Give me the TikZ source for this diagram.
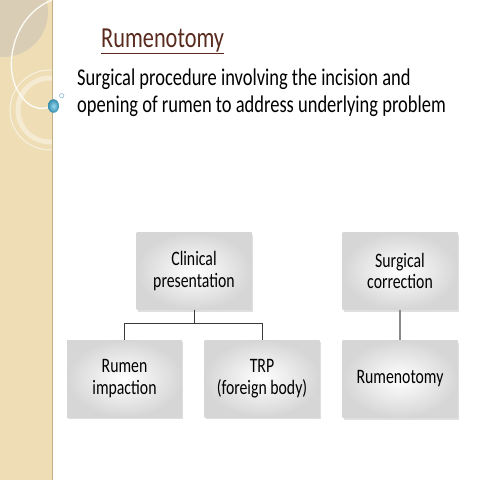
\documentclass[tikz,border=0pt]{standalone}
\usepackage{fontspec}
\setmainfont[FakeStretch=0.77]{Carlito}
\usetikzlibrary{shadows,calc}
\definecolor{strip}{HTML}{EEDDB5}
\definecolor{stripline}{HTML}{C4AE86}
\definecolor{disc}{HTML}{D9CDB5}
\definecolor{titlecol}{HTML}{5A2A1E}
\definecolor{boxedge}{HTML}{D6D6D6}
\definecolor{treeline}{HTML}{3A3A3A}
\definecolor{rightline}{HTML}{8A8A8A}
\definecolor{bead}{HTML}{45BCE6}
\definecolor{ringblue}{HTML}{9CC6D8}
\tikzset{
  sbox/.style={rectangle, minimum width=115pt, minimum height=77pt,
    shading=radial, inner color=white, outer color=boxedge,
    drop shadow={opacity=0.25, shadow xshift=1pt, shadow yshift=-2pt},
    align=center, font=\fontsize{20.5}{21.5}\selectfont, text=black, inner sep=0pt},
  tree/.style={draw=treeline, line width=0.9pt},
  rtree/.style={draw=rightline, line width=1.2pt}
}
\begin{document}
\begin{tikzpicture}[x=1pt,y=-1pt]
\useasboundingbox (0,0) rectangle (480,480);
\fill[white] (0,0) rectangle (480,480);
% left strip
\fill[strip] (0,0) rectangle (52,480);
\begin{scope}
\clip (0,0) rectangle (52,480);
\fill[disc] (3,12) circle (45);
\draw[white!80!strip, line width=5pt, opacity=0.5] (50,110) circle (32);
\draw[white!85!strip, line width=1pt, opacity=0.7] (50,110) circle (40);
\draw[white!90!strip, line width=1.3pt] (52,0) .. controls (15,15) and (5,60) .. (15,85) .. controls (25,108) and (40,112) .. (52,106);
\end{scope}
\draw[stripline, line width=1.3pt] (52.5,0) -- (52.5,480);
\shade[inner color=bead!55!white, outer color=bead!75!black] (53.5,106) ellipse [x radius=5.5, y radius=6.8];
\draw[ringblue, line width=0.7pt] (61.7,95.7) circle (2.2);
% title
\node[anchor=base west, inner sep=0pt, text=titlecol, font=\fontsize{29}{30}\selectfont] (title) at (101,47) {\underline{Rumenotomy}};
\node[anchor=base west, inner sep=0pt, align=left, font=\fontsize{24}{27}\selectfont] (body) at (77,85) {Surgical procedure involving the incision and};
\node[anchor=base west, inner sep=0pt, align=left, font=\fontsize{24}{27}\selectfont] (body2) at (77,112) {opening of rumen to address underlying problem};
% boxes
\node[sbox] (clin) at (194,271) {Clinical\\presentation};
\node[sbox] (ri) at (124.5,378.5) {Rumen\\impaction};
\node[sbox] (trp) at (262,378.5) {TRP\\(foreign body)};
\node[sbox] (surg) at (400,271) {Surgical\\correction};
\node[sbox] (rum) at (400,379) {Rumenotomy};
% connectors
\draw[tree] (clin.south) -- ++(0,14) -| (ri.north);
\draw[tree] (clin.south) -- ++(0,14) -| (trp.north);
\draw[rtree] (surg.south) -- (rum.north);
\end{tikzpicture}
\end{document}
